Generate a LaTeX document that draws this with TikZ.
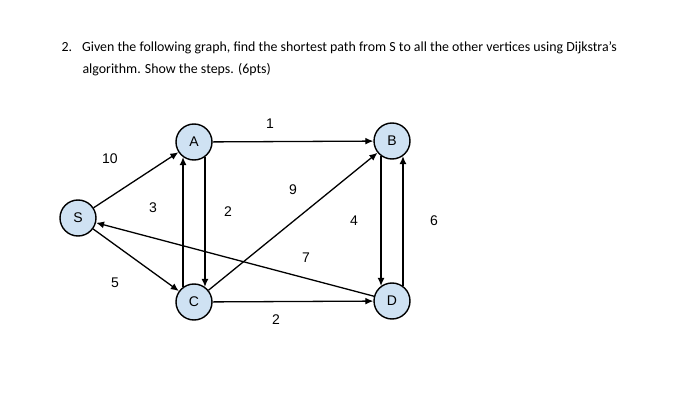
\documentclass[tikz,border=0pt]{standalone}
\usepackage{fontspec}
\usetikzlibrary{arrows.meta}
\setmainfont{Carlito}
\newfontfamily\arialf{Liberation Sans}
\definecolor{nodefill}{RGB}{207,226,243}
\begin{document}
\begin{tikzpicture}[x=1pt,y=-1pt,
  vert/.style={circle,draw,line width=1.4pt,fill=nodefill,minimum size=36pt,inner sep=0pt,font=\arialf\fontsize{14}{14}\selectfont},
  edge/.style={-{Latex[length=8pt,width=7pt]},line width=1.3pt},
  lbl/.style={font=\arialf\fontsize{14}{14}\selectfont}]
\useasboundingbox (0,0) rectangle (697,404);
\fill[white] (0,0) rectangle (697,404);
\node[anchor=base west,font=\fontsize{13.9}{14}\selectfont] (q1) at (58,52) {2.\hspace{10pt}Given the following graph, find the shortest path from S to all the other vertices using Dijkstra’s};
\node[anchor=base west,font=\fontsize{13.9}{14}\selectfont] (q2) at (79,74) {algorithm. Show the steps. (6pts)};
\node[vert] (S) at (78,218) {S};
\node[vert] (A) at (194,142) {A};
\node[vert] (B) at (392,141) {B};
\node[vert] (C) at (194,302) {C};
\node[vert] (D) at (392,301) {D};
\draw[edge] (S) -- (A);
\draw[edge] (A) -- (B);
\draw[edge] (S) -- (C);
\draw[edge] (C) -- (D);
\draw[edge] (C) -- (B);
\draw[edge] (D) -- (S);
\draw[edge] (C.126) -- (A.234);
\draw[edge] (A.306) -- (C.54);
\draw[edge] (B.234) -- (D.126);
\draw[edge] (D.54) -- (B.306);
\node[lbl] (l10) at (110,159) {10};
\node[lbl] (l3) at (153,208) {3};
\node[lbl] (l2a) at (228,212) {2};
\node[lbl] (l1) at (270,124) {1};
\node[lbl] (l9) at (293,190) {9};
\node[lbl] (l4) at (354,221) {4};
\node[lbl] (l6) at (434,221) {6};
\node[lbl] (l7) at (306,258) {7};
\node[lbl] (l5) at (115,283) {5};
\node[lbl] (l2b) at (276,320) {2};
\end{tikzpicture}
\end{document}
